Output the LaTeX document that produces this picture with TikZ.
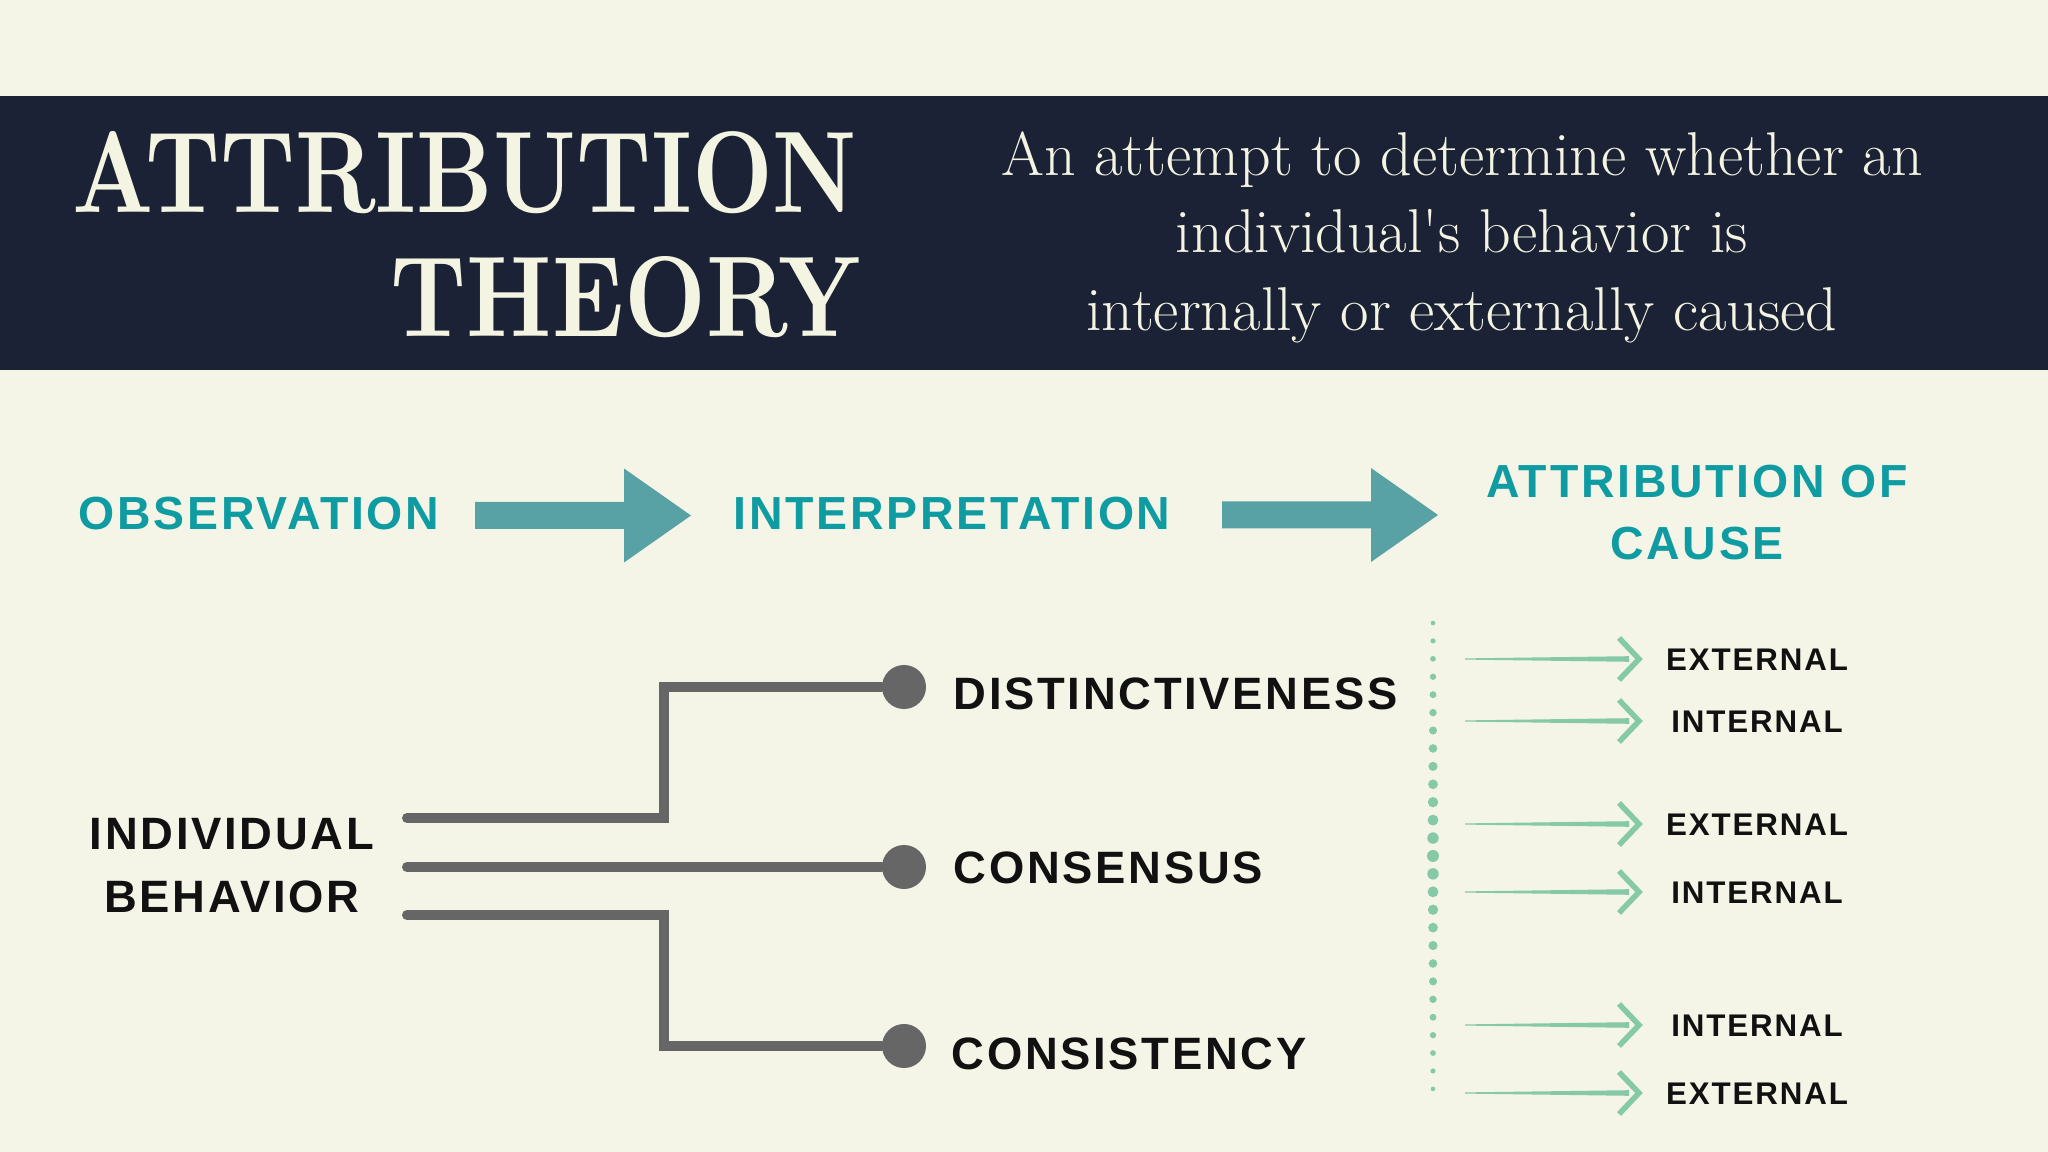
\documentclass[tikz,border=0pt]{standalone}
\usepackage{fontspec}
\newfontfamily\lblfont[LetterSpace=6]{Liberation Sans}
\usetikzlibrary{calc}

\definecolor{paper}{HTML}{F4F5E6}
\definecolor{navy}{HTML}{1B2235}
\definecolor{cream}{HTML}{F3F4E1}
\definecolor{flowtxt}{HTML}{0E9BA1}
\definecolor{flowarrow}{HTML}{58A2A5}
\definecolor{wiregrey}{HTML}{666666}
\definecolor{mint}{HTML}{85C9A7}
\definecolor{ink}{HTML}{111111}

\begin{document}
\begin{tikzpicture}[x=0.01cm,y=-0.01cm,every node/.style={inner sep=0pt}]
  \tikzset{
    stage/.style={font=\lblfont\bfseries\fontsize{13.2pt}{15pt}\selectfont,text=flowtxt},
    factor/.style={font=\lblfont\bfseries\fontsize{12.9pt}{15pt}\selectfont,text=ink},
    cause/.style={font=\lblfont\bfseries\fontsize{8.9pt}{10pt}\selectfont,text=ink},
    subline/.style={font=\fontsize{17.6pt}{22pt}\selectfont,text=cream,anchor=base},
    wire/.style={draw=wiregrey,line width=0.1cm,line cap=round},
    pin/.style={circle,fill=wiregrey,minimum size=0.44cm}
  }
  \useasboundingbox (0,0) rectangle (2048,1152);
  \fill[paper] (0,0) rectangle (2048,1152);
  \fill[navy] (0,96) rectangle (2048,370);

  % banner
  \node[anchor=base west,text=cream] (title1) at (72,213) {\resizebox{7.84cm}{0.81cm}{\bfseries ATTRIBUTION}};
  \node[anchor=base east,text=cream] (title2) at (862,337) {\resizebox{4.70cm}{0.80cm}{\bfseries THEORY}};
  \node[subline] (sub1) at (1462,176) {An attempt to determine whether an};
  \node[subline] (sub2) at (1462,253) {individual\textquotesingle s behavior is};
  \node[subline] (sub3) at (1462,331) {internally or externally caused};

  % process row
  \node[stage,anchor=base west] (obs) at (78,530) {OBSERVATION};
  \node[stage,anchor=base west] (interp) at (733,530) {INTERPRETATION};
  \node[stage,anchor=base] (attrib) at (1697,498) {ATTRIBUTION OF};
  \node[stage,anchor=base] (cause) at (1697,560) {CAUSE};
  \coordinate (s1) at (475,515.5);
  \coordinate (s2) at (1222,515);
  \foreach \s in {s1,s2}
    \fill[flowarrow] (\s) ++(0,-13.5) -- ++(149,0) -- ++(0,-33.5) -- ++(67,47)
      -- ++(-67,47) -- ++(0,-33.5) -- ++(-149,0) -- cycle;

  % behaviour tree
  \node[factor,anchor=base] (indiv) at (232,849) {INDIVIDUAL};
  \node[factor,anchor=base] (behav) at (232,912) {BEHAVIOR};
  \node[pin] (pDist) at (904,687) {};
  \node[pin] (pCons) at (904,867) {};
  \node[pin] (pConsis) at (904,1046) {};
  \coordinate (w1) at (407,818);
  \coordinate (w2) at (407,867);
  \coordinate (w3) at (407,915);
  \coordinate (bend) at (664,867);
  \draw[wire] (w1) -- (w1 -| bend) |- (pDist);
  \draw[wire] (w2) -- (pCons);
  \draw[wire] (w3) -- (w3 -| bend) |- (pConsis);
  \node[factor,anchor=base west] (dist) at (953,709) {DISTINCTIVENESS};
  \node[factor,anchor=base west] (cons) at (953,883) {CONSENSUS};
  \node[factor,anchor=base west] (consis) at (951,1069) {CONSISTENCY};

  % dotted divider
  \foreach \k in {0,...,26}
    \fill[mint] (1433,623+\k*17.92) circle[radius={0.01cm*(2.3+3.7*(1-abs(\k-13)/13))}];

  % attributions
  \foreach \y/\word [count=\i] in {659/EXTERNAL,721/INTERNAL,824/EXTERNAL,892/INTERNAL,1025/INTERNAL,1093/EXTERNAL} {
    \coordinate (t\i) at (1465,\y);
    \coordinate (h\i) at (1639,\y);
    \node[cause,anchor=base] (c\i) at (1757,\y+11.5) {\word};
    \fill[mint] ($(t\i)+(0,-0.6)$) -- ($(h\i)+(-10,-2.8)$) -- ($(h\i)+(-10,2.8)$) -- ($(t\i)+(0,0.6)$) -- cycle;
    \draw[mint,line width=0.055cm] ($(h\i)+(-20,-21)$) -- (h\i) -- ($(h\i)+(-20,21)$);
  }
\end{tikzpicture}
\end{document}
